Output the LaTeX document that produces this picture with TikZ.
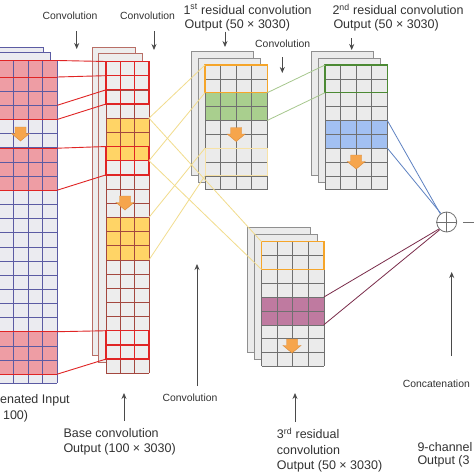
\documentclass[tikz,border=0pt]{standalone}
\usepackage{fontspec}
\setmainfont{Liberation Sans}
\usetikzlibrary{arrows.meta}
\definecolor{inln}{HTML}{5B5BA3}
\definecolor{infill}{HTML}{EBEBF0}
\definecolor{pinkc}{HTML}{EE9DA4}
\definecolor{redc}{HTML}{E02424}
\definecolor{baseln}{HTML}{A3473F}
\definecolor{basefill}{HTML}{EDEDED}
\definecolor{baselay}{HTML}{B86E66}
\definecolor{yel}{HTML}{FFD466}
\definecolor{resln}{HTML}{707070}
\definecolor{resfill}{HTML}{EBEBEB}
\definecolor{reslay}{HTML}{8F8F8F}
\definecolor{orng}{HTML}{F5A52A}
\definecolor{faintc}{HTML}{F7E2A6}
\definecolor{grn}{HTML}{A9CF8E}
\definecolor{grnbox}{HTML}{4C8A34}
\definecolor{blu}{HTML}{A2C0F2}
\definecolor{mag}{HTML}{BF7AA0}
\definecolor{yline}{HTML}{F2DC8C}
\definecolor{gline}{HTML}{A6C78D}
\definecolor{bline}{HTML}{5E82C2}
\definecolor{pline}{HTML}{7A2C4A}
\definecolor{arrfill}{HTML}{F6A54C}
\definecolor{arrdraw}{HTML}{DB8A36}
\definecolor{txt}{HTML}{333333}
\definecolor{ptrc}{HTML}{4A4A4A}
\newcommand\resgrid[2]{%
  \foreach \k in {0,...,9} \draw[resgridln] (#1,{#2+\k*13.85}) -- ({#1+62.3},{#2+\k*13.85});
  \foreach \k in {0,...,4} \draw[resgridln] ({#1+\k*15.575},#2) -- ({#1+\k*15.575},{#2+124.65});
}
\newcommand\reslayers[2]{%
  \draw[reslayer] ({#1-14},{#2-14}) rectangle ++(62.3,124.65);
  \draw[reslayer] ({#1-7},{#2-7}) rectangle ++(62.3,124.65);
  \fill[resfill] (#1,#2) rectangle ++(62.3,124.65);
}
\newcommand\blockarrow[2]{%
  \draw[blockarr] ({#1-5.5},#2) -- ({#1+5.5},#2) -- ({#1+5.5},{#2+6.5}) -- ({#1+9},{#2+6.5})
    -- (#1,{#2+14}) -- ({#1-9},{#2+6.5}) -- ({#1-5.5},{#2+6.5}) -- cycle;
}
\begin{document}
\begin{tikzpicture}[x=1pt,y=-1pt,
  lbl/.style={font=\fontsize{12.5}{15}\selectfont, text=txt, inner sep=0pt},
  slbl/.style={font=\fontsize{10.4}{12}\selectfont, text=txt, inner sep=0pt},
  pointer/.style={draw=ptrc, line width=0.8pt, -{Stealth[length=6pt,width=5pt]}},
  ingrid/.style={draw=inln, line width=0.6pt},
  inlay/.style={draw=inln, line width=0.6pt, fill=infill},
  redthin/.style={draw=redc, line width=0.9pt},
  basegrid/.style={draw=baseln, line width=0.6pt},
  redcell/.style={draw=redc, line width=1.3pt},
  baselayer/.style={draw=baselay, line width=0.6pt, fill=basefill},
  resgridln/.style={draw=resln, line width=0.6pt},
  reslayer/.style={draw=reslay, line width=0.6pt, fill=resfill},
  orbox/.style={draw=orng, line width=1.4pt},
  fbox/.style={draw=faintc, line width=0.9pt},
  gbox/.style={draw=grnbox, line width=1.2pt},
  blockarr/.style={fill=arrfill, draw=arrdraw, line width=0.4pt},
  ycon/.style={draw=yline, line width=0.8pt},
  gcon/.style={draw=gline, line width=0.8pt},
  bcon/.style={draw=bline, line width=0.8pt},
  pcon/.style={draw=pline, line width=0.8pt}]
\useasboundingbox (0,0) rectangle (474,474);
\fill[white] (0,0) rectangle (474,474);
\begin{scope}
\clip (0,0) rectangle (474,474);
% ---------------- input block
\draw[inlay] (-30,47) rectangle (43.3,370);
\draw[inlay] (-25,52.3) rectangle (50.7,376);
\fill[infill] (-1.2,60.5) rectangle (57.2,383);
\fill[pinkc] (-1.2,60.5) rectangle (57.2,119.45);
\fill[pinkc] (-1.2,148.2) rectangle (57.2,190.2);
\fill[pinkc] (-1.2,331.7) rectangle (57.2,374.15);
\foreach \k in {0,...,21} \draw[ingrid] (-1.2,{77+14.15*\k}) -- (57.2,{77+14.15*\k});
\draw[ingrid] (-1.2,383) -- (57.2,383);
\foreach \x in {-1.2,13.4,28,42.6,57.2} \draw[ingrid] (\x,60.5) -- (\x,383);
\foreach \y in {60.5,77,119.45,148.2,190.2,331.7,374.15} \draw[redthin] (-1.2,\y) -- (57.2,\y);
\blockarrow{20.5}{127}
% ---------------- base block
\draw[baselayer] (92,47.7) rectangle (135,355);
\draw[baselayer] (98.5,53.5) rectangle (142,362);
\fill[basefill] (106,61.5) rectangle (149,373.24);
\fill[yel] (106,118.18) rectangle (149,160.69);
\fill[yel] (106,217.37) rectangle (149,259.88);
\foreach \k in {0,...,22} \draw[basegrid] (106,{61.5+14.17*\k}) -- (149,{61.5+14.17*\k});
\foreach \x in {106,120.33,134.67,149} \draw[basegrid] (\x,61.5) -- (\x,373.24);
\foreach \r in {0,1,2,6,7,19,20}
  \foreach \c in {0,1,2}
    \draw[redcell] ({106+14.333*\c},{61.5+14.17*\r}) rectangle ++(14.333,14.17);
\blockarrow{125}{196}
% ---------------- residual 1
\reslayers{205}{65}
\fill[grn] (205,92.7) rectangle ++(62.3,27.7);
\resgrid{205}{65}
\draw[orbox] (205,65) rectangle ++(62.3,27.7);
\draw[fbox] (205,148.1) rectangle ++(62.3,27.7);
\blockarrow{236.2}{127.5}
% ---------------- residual 2
\reslayers{325}{65}
\fill[blu] (325,120.4) rectangle ++(62.3,27.7);
\resgrid{325}{65}
\draw[gbox] (325,65) rectangle ++(62.3,27.7);
\blockarrow{356.2}{155}
% ---------------- residual 3
\reslayers{261.5}{241.7}
\fill[mag] (261.5,297.1) rectangle ++(62.3,27.7);
\resgrid{261.5}{241.7}
\draw[orbox] (261.5,241.7) rectangle ++(62.3,27.7);
\blockarrow{292}{339}
% ---------------- connectors input -> base
\foreach \ya/\yb [count=\n] in {60.5/61.5, 77/75.67, 105.3/89.84, 119.45/104.01, 148.2/146.52, 190.2/174.86, 331.7/330.73, 374.15/359.07} {
  \coordinate (in\n) at (57.2,\ya);
  \coordinate (bs\n) at (106,\yb);
  \draw[redthin] (in\n) -- (bs\n);
}
% ---------------- base -> residual 1 / 3
\coordinate (y1) at (149,118.18);
\coordinate (y2) at (149,160.69);
\coordinate (y3) at (149,217.37);
\coordinate (y4) at (149,259.88);
\coordinate (r1a) at (205,65);
\coordinate (r1b) at (205,92.7);
\coordinate (r1c) at (205,148.1);
\coordinate (r1d) at (205,175.8);
\coordinate (r3a) at (261.5,241.7);
\coordinate (r3b) at (261.5,269.4);
\draw[ycon] (y1) -- (r1a);
\draw[ycon] (y2) -- (r1b);
\draw[ycon] (y1) -- (r3a);
\draw[ycon] (y2) -- (r3b);
\draw[ycon] (y3) -- (r1c);
\draw[ycon] (y4) -- (r1d);
% ---------------- residual 1 -> residual 2
\coordinate (g1) at (267.3,92.7);
\coordinate (g2) at (325,65);
\coordinate (g3) at (267.3,120.4);
\coordinate (g4) at (325,92.7);
\draw[gcon] (g1) -- (g2);
\draw[gcon] (g3) -- (g4);
% ---------------- sum node
\node[circle, draw=resln, line width=0.8pt, fill=white, minimum size=20pt, inner sep=0pt] (sum) at (446.7,222) {};
\draw[draw=resln, line width=0.8pt] (sum.north) -- (sum.south);
\draw[draw=resln, line width=0.8pt] (sum.west) -- (sum.east);
\coordinate (bl1) at (387.3,120.4);
\coordinate (bl2) at (387.3,148.1);
\draw[bcon] (bl1) -- (sum.128);
\draw[bcon] (bl2) -- (sum.124);
\coordinate (pl1) at (323.8,297.1);
\coordinate (pl2) at (323.8,324.8);
\draw[pcon] (pl1) -- (sum.222);
\draw[pcon] (pl2) -- (sum.228);
\coordinate (outa) at (463,222);
\coordinate (outb) at (478,222);
\draw[draw=resln, line width=0.8pt] (outa) -- (outb);
% ---------------- labels
\node[slbl] (c1) at (70,16) {Convolution};
\coordinate (p1a) at (76.7,31); \coordinate (p1b) at (76.7,49);
\draw[pointer] (p1a) -- (p1b);
\node[slbl] (c2) at (147.5,16) {Convolution};
\coordinate (p2a) at (154,31); \coordinate (p2b) at (154,50);
\draw[pointer] (p2a) -- (p2b);
\node[lbl, anchor=west] (r1t) at (183.3,9.3) {1\textsuperscript{st} residual convolution};
\node[lbl, anchor=west] (r1o) at (184.5,25) {Output (50 × 3030)};
\coordinate (p3a) at (225,31.5); \coordinate (p3b) at (225,47);
\draw[pointer] (p3a) -- (p3b);
\node[slbl] (c3) at (282.7,44) {Convolution};
\coordinate (p4a) at (282.3,57); \coordinate (p4b) at (282.3,73);
\draw[pointer] (p4a) -- (p4b);
\node[lbl, anchor=west] (r2t) at (332.3,9.3) {2\textsuperscript{nd} residual convolution};
\node[lbl, anchor=west] (r2o) at (333.3,25) {Output (50 × 3030)};
\coordinate (p5a) at (351.7,38); \coordinate (p5b) at (351.7,50);
\draw[pointer] (p5a) -- (p5b);
\node[lbl, anchor=west] (inl1) at (0,400) {enated Input};
\node[lbl, anchor=east] (inl2) at (28.3,416.7) {100)};
\node[lbl, anchor=west] (bl1t) at (63.3,433.3) {Base convolution};
\node[lbl, anchor=west] (bl1o) at (63.3,449.3) {Output (100 × 3030)};
\coordinate (p6a) at (124,421); \coordinate (p6b) at (124,393);
\draw[pointer] (p6a) -- (p6b);
\node[slbl] (c4) at (190,398) {Convolution};
\coordinate (p7a) at (197,386); \coordinate (p7b) at (197,264);
\draw[pointer] (p7a) -- (p7b);
\node[lbl, anchor=west] (r3t) at (276.7,433.3) {3\textsuperscript{rd} residual};
\node[lbl, anchor=west] (r3m) at (276.7,450) {convolution};
\node[lbl, anchor=west] (r3o) at (276.7,466.7) {Output (50 × 3030)};
\coordinate (p8a) at (295,422); \coordinate (p8b) at (295,393);
\draw[pointer] (p8a) -- (p8b);
\node[slbl] (cc) at (436.3,383.3) {Concatenation};
\coordinate (p9a) at (451.7,356); \coordinate (p9b) at (451.7,272);
\draw[pointer] (p9a) -- (p9b);
\node[lbl, anchor=west] (nc1) at (417.3,446.7) {9-channel};
\node[lbl, anchor=west] (nc2) at (417.3,461.7) {Output (3};
\end{scope}
\end{tikzpicture}
\end{document}
